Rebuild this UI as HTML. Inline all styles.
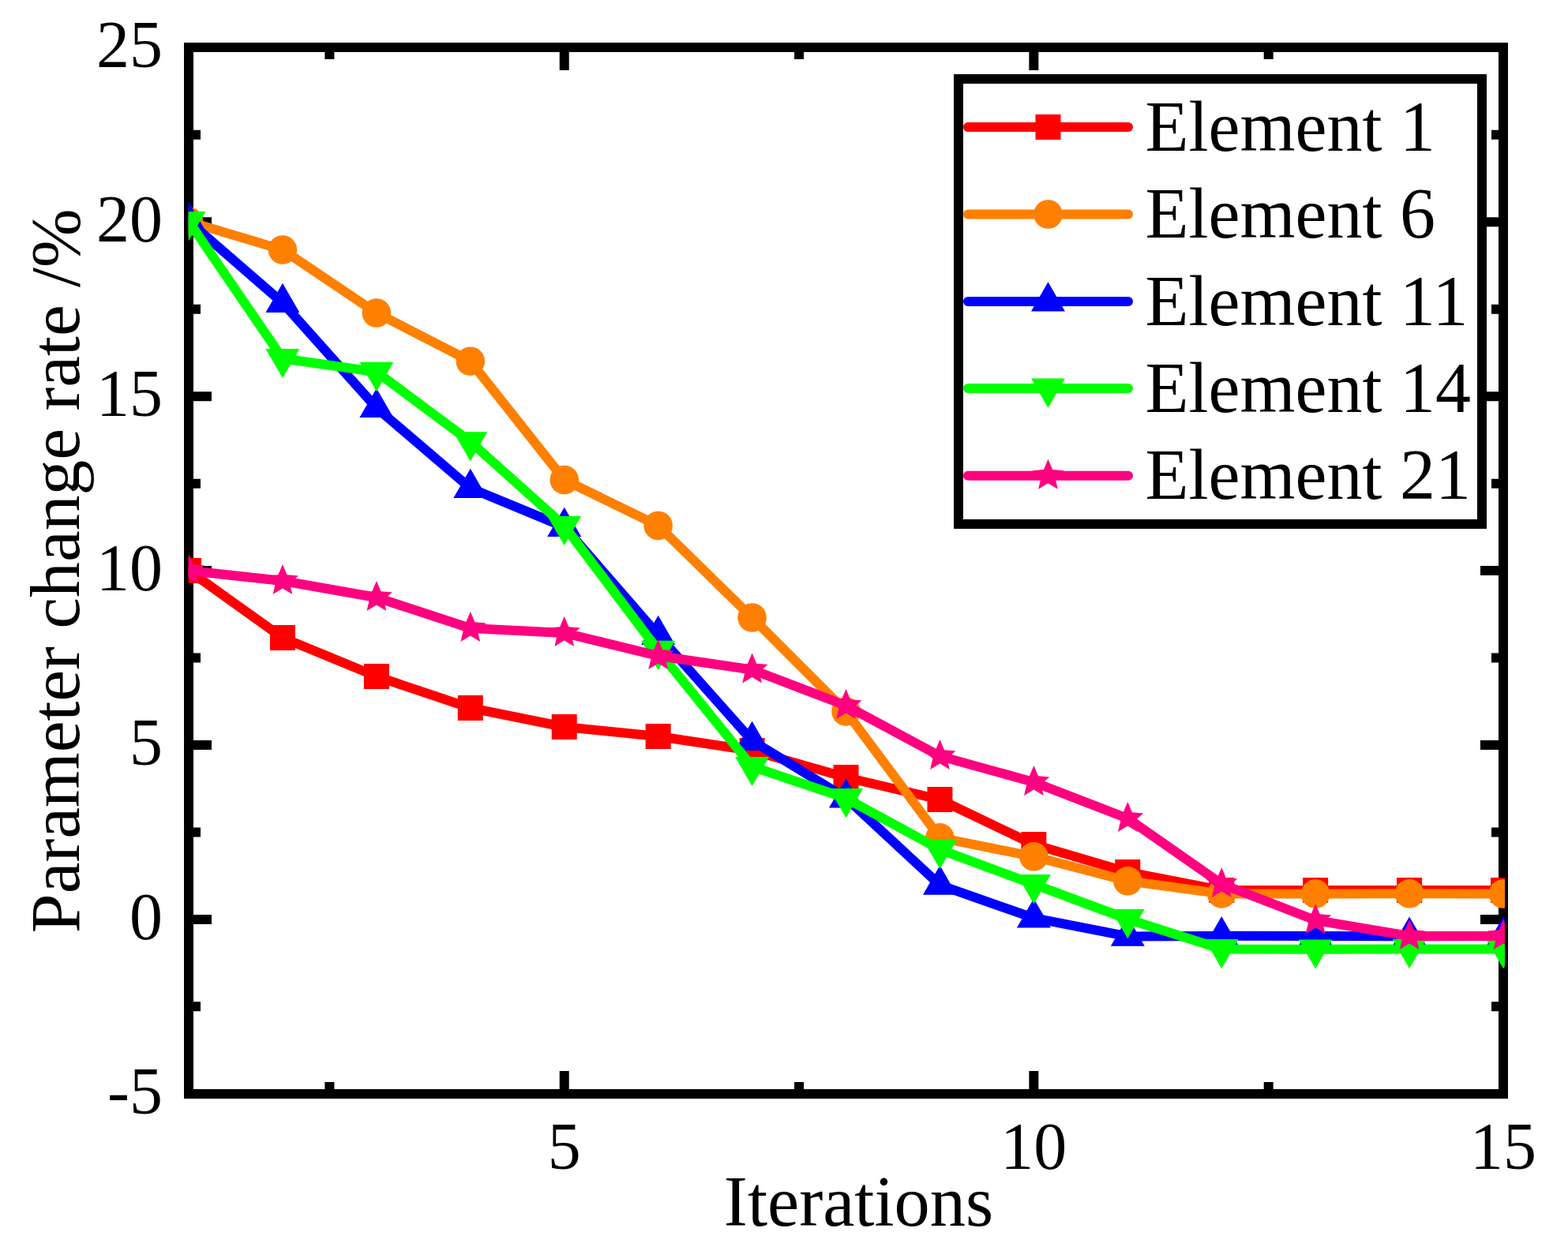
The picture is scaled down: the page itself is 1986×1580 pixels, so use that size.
<!DOCTYPE html>
<html><head><meta charset="utf-8"><title>Parameter change rate</title>
<style>html,body{margin:0;padding:0;background:#fff;}svg{display:block;}</style>
</head><body>
<svg width="1986" height="1580" viewBox="0 0 1986 1580">
<rect width="1986" height="1580" fill="#fff"/>
<rect x="239" y="60" width="1665" height="1326" fill="none" stroke="#000" stroke-width="12"/>
<path d="M417.39,1380v-9M417.39,66v9M714.72,1380v-23M714.72,66v23M1012.05,1380v-9M1012.05,66v9M1309.37,1380v-23M1309.37,66v23M1606.7,1380v-9M1606.7,66v9M245,1275.35h9M1898,1275.35h-9M245,1164.9h23M1898,1164.9h-23M245,1054.45h9M1898,1054.45h-9M245,944h23M1898,944h-23M245,833.55h9M1898,833.55h-9M245,723.1h23M1898,723.1h-23M245,612.65h9M1898,612.65h-9M245,502.2h23M1898,502.2h-23M245,391.75h9M1898,391.75h-9M245,281.3h23M1898,281.3h-23M245,170.85h9M1898,170.85h-9" stroke="#000" stroke-width="12" fill="none"/>
<defs><clipPath id="cp"><rect x="238.7" y="0" width="1667.3" height="1580"/></clipPath></defs>
<g clip-path="url(#cp)">
<polyline points="239,723 357.93,808 476.86,857 595.79,897 714.72,921 833.65,933 952.58,951 1071.51,985 1190.44,1013 1309.37,1070 1428.3,1105 1547.23,1128 1666.16,1128 1785.09,1128 1904.02,1128" fill="none" stroke="#ff0000" stroke-width="12" stroke-linejoin="round" stroke-linecap="round"/><rect x="223" y="707" width="32" height="32" fill="#ff0000"/><rect x="341.93" y="792" width="32" height="32" fill="#ff0000"/><rect x="460.86" y="841" width="32" height="32" fill="#ff0000"/><rect x="579.79" y="881" width="32" height="32" fill="#ff0000"/><rect x="698.72" y="905" width="32" height="32" fill="#ff0000"/><rect x="817.65" y="917" width="32" height="32" fill="#ff0000"/><rect x="936.58" y="935" width="32" height="32" fill="#ff0000"/><rect x="1055.51" y="969" width="32" height="32" fill="#ff0000"/><rect x="1174.44" y="997" width="32" height="32" fill="#ff0000"/><rect x="1293.37" y="1054" width="32" height="32" fill="#ff0000"/><rect x="1412.3" y="1089" width="32" height="32" fill="#ff0000"/><rect x="1531.23" y="1112" width="32" height="32" fill="#ff0000"/><rect x="1650.16" y="1112" width="32" height="32" fill="#ff0000"/><rect x="1769.09" y="1112" width="32" height="32" fill="#ff0000"/><rect x="1888.02" y="1112" width="32" height="32" fill="#ff0000"/>
<polyline points="239,280.7 357.93,316.5 476.86,396.5 595.79,457.7 714.72,608 833.65,666 952.58,782.5 1071.51,901.5 1190.44,1061.4 1309.37,1085.3 1428.3,1116.3 1547.23,1132.4 1666.16,1132.5 1785.09,1132.3 1904.02,1132.5" fill="none" stroke="#ff8000" stroke-width="12" stroke-linejoin="round" stroke-linecap="round"/><circle cx="239" cy="280.7" r="18.3" fill="#ff8000"/><circle cx="357.93" cy="316.5" r="18.3" fill="#ff8000"/><circle cx="476.86" cy="396.5" r="18.3" fill="#ff8000"/><circle cx="595.79" cy="457.7" r="18.3" fill="#ff8000"/><circle cx="714.72" cy="608" r="18.3" fill="#ff8000"/><circle cx="833.65" cy="666" r="18.3" fill="#ff8000"/><circle cx="952.58" cy="782.5" r="18.3" fill="#ff8000"/><circle cx="1071.51" cy="901.5" r="18.3" fill="#ff8000"/><circle cx="1190.44" cy="1061.4" r="18.3" fill="#ff8000"/><circle cx="1309.37" cy="1085.3" r="18.3" fill="#ff8000"/><circle cx="1428.3" cy="1116.3" r="18.3" fill="#ff8000"/><circle cx="1547.23" cy="1132.4" r="18.3" fill="#ff8000"/><circle cx="1666.16" cy="1132.5" r="18.3" fill="#ff8000"/><circle cx="1785.09" cy="1132.3" r="18.3" fill="#ff8000"/><circle cx="1904.02" cy="1132.5" r="18.3" fill="#ff8000"/>
<polyline points="239,280.4 357.93,383.6 476.86,516.7 595.79,618.5 714.72,667.6 833.65,804.6 952.58,938.5 1071.51,1011 1190.44,1121.4 1309.37,1163.2 1428.3,1186.4 1547.23,1185.8 1666.16,1186 1785.09,1186.2 1904.02,1186" fill="none" stroke="#0000ff" stroke-width="12" stroke-linejoin="round" stroke-linecap="round"/><polygon points="239,255.6 260.48,292.8 217.52,292.8" fill="#0000ff"/><polygon points="357.93,358.8 379.41,396 336.45,396" fill="#0000ff"/><polygon points="476.86,491.9 498.34,529.1 455.38,529.1" fill="#0000ff"/><polygon points="595.79,593.7 617.27,630.9 574.31,630.9" fill="#0000ff"/><polygon points="714.72,642.8 736.2,680 693.24,680" fill="#0000ff"/><polygon points="833.65,779.8 855.13,817 812.17,817" fill="#0000ff"/><polygon points="952.58,913.7 974.06,950.9 931.1,950.9" fill="#0000ff"/><polygon points="1071.51,986.2 1092.99,1023.4 1050.03,1023.4" fill="#0000ff"/><polygon points="1190.44,1096.6 1211.92,1133.8 1168.96,1133.8" fill="#0000ff"/><polygon points="1309.37,1138.4 1330.85,1175.6 1287.89,1175.6" fill="#0000ff"/><polygon points="1428.3,1161.6 1449.78,1198.8 1406.82,1198.8" fill="#0000ff"/><polygon points="1547.23,1161 1568.71,1198.2 1525.75,1198.2" fill="#0000ff"/><polygon points="1666.16,1161.2 1687.64,1198.4 1644.68,1198.4" fill="#0000ff"/><polygon points="1785.09,1161.4 1806.57,1198.6 1763.61,1198.6" fill="#0000ff"/><polygon points="1904.02,1161.2 1925.5,1198.4 1882.54,1198.4" fill="#0000ff"/>
<polyline points="239,280.4 357.93,454.3 476.86,471.2 595.79,559.6 714.72,666.3 833.65,824.2 952.58,971.3 1071.51,1011.4 1190.44,1076.3 1309.37,1120.4 1428.3,1164.5 1547.23,1202.5 1666.16,1202.8 1785.09,1202.4 1904.02,1202.5" fill="none" stroke="#00ff00" stroke-width="12" stroke-linejoin="round" stroke-linecap="round"/><polygon points="239,305.2 260.48,268 217.52,268" fill="#00ff00"/><polygon points="357.93,479.1 379.41,441.9 336.45,441.9" fill="#00ff00"/><polygon points="476.86,496 498.34,458.8 455.38,458.8" fill="#00ff00"/><polygon points="595.79,584.4 617.27,547.2 574.31,547.2" fill="#00ff00"/><polygon points="714.72,691.1 736.2,653.9 693.24,653.9" fill="#00ff00"/><polygon points="833.65,849 855.13,811.8 812.17,811.8" fill="#00ff00"/><polygon points="952.58,996.1 974.06,958.9 931.1,958.9" fill="#00ff00"/><polygon points="1071.51,1036.2 1092.99,999 1050.03,999" fill="#00ff00"/><polygon points="1190.44,1101.1 1211.92,1063.9 1168.96,1063.9" fill="#00ff00"/><polygon points="1309.37,1145.2 1330.85,1108 1287.89,1108" fill="#00ff00"/><polygon points="1428.3,1189.3 1449.78,1152.1 1406.82,1152.1" fill="#00ff00"/><polygon points="1547.23,1227.3 1568.71,1190.1 1525.75,1190.1" fill="#00ff00"/><polygon points="1666.16,1227.6 1687.64,1190.4 1644.68,1190.4" fill="#00ff00"/><polygon points="1785.09,1227.2 1806.57,1190 1763.61,1190" fill="#00ff00"/><polygon points="1904.02,1227.3 1925.5,1190.1 1882.54,1190.1" fill="#00ff00"/>
<polyline points="239,723 357.93,736 476.86,757 595.79,796 714.72,802 833.65,831 952.58,848.5 1071.51,894 1190.44,958 1309.37,991 1428.3,1037 1547.23,1120 1666.16,1166 1785.09,1186 1904.02,1186" fill="none" stroke="#ff0080" stroke-width="12" stroke-linejoin="round" stroke-linecap="round"/><polygon points="239,702 244.58,715.31 258.97,716.51 248.04,725.94 251.34,739.99 239,732.5 226.66,739.99 229.96,725.94 219.03,716.51 233.42,715.31" fill="#ff0080"/><polygon points="357.93,715 363.51,728.31 377.9,729.51 366.97,738.94 370.27,752.99 357.93,745.5 345.59,752.99 348.89,738.94 337.96,729.51 352.35,728.31" fill="#ff0080"/><polygon points="476.86,736 482.44,749.31 496.83,750.51 485.9,759.94 489.2,773.99 476.86,766.5 464.52,773.99 467.82,759.94 456.89,750.51 471.28,749.31" fill="#ff0080"/><polygon points="595.79,775 601.37,788.31 615.76,789.51 604.83,798.94 608.13,812.99 595.79,805.5 583.45,812.99 586.75,798.94 575.82,789.51 590.21,788.31" fill="#ff0080"/><polygon points="714.72,781 720.3,794.31 734.69,795.51 723.76,804.94 727.06,818.99 714.72,811.5 702.38,818.99 705.68,804.94 694.75,795.51 709.14,794.31" fill="#ff0080"/><polygon points="833.65,810 839.23,823.31 853.62,824.51 842.69,833.94 845.99,847.99 833.65,840.5 821.31,847.99 824.61,833.94 813.68,824.51 828.07,823.31" fill="#ff0080"/><polygon points="952.58,827.5 958.16,840.81 972.55,842.01 961.62,851.44 964.92,865.49 952.58,858 940.24,865.49 943.54,851.44 932.61,842.01 947,840.81" fill="#ff0080"/><polygon points="1071.51,873 1077.09,886.31 1091.48,887.51 1080.55,896.94 1083.85,910.99 1071.51,903.5 1059.17,910.99 1062.47,896.94 1051.54,887.51 1065.93,886.31" fill="#ff0080"/><polygon points="1190.44,937 1196.02,950.31 1210.41,951.51 1199.48,960.94 1202.78,974.99 1190.44,967.5 1178.1,974.99 1181.4,960.94 1170.47,951.51 1184.86,950.31" fill="#ff0080"/><polygon points="1309.37,970 1314.95,983.31 1329.34,984.51 1318.41,993.94 1321.71,1007.99 1309.37,1000.5 1297.03,1007.99 1300.33,993.94 1289.4,984.51 1303.79,983.31" fill="#ff0080"/><polygon points="1428.3,1016 1433.88,1029.31 1448.27,1030.51 1437.34,1039.94 1440.64,1053.99 1428.3,1046.5 1415.96,1053.99 1419.26,1039.94 1408.33,1030.51 1422.72,1029.31" fill="#ff0080"/><polygon points="1547.23,1099 1552.81,1112.31 1567.2,1113.51 1556.27,1122.94 1559.57,1136.99 1547.23,1129.5 1534.89,1136.99 1538.19,1122.94 1527.26,1113.51 1541.65,1112.31" fill="#ff0080"/><polygon points="1666.16,1145 1671.74,1158.31 1686.13,1159.51 1675.2,1168.94 1678.5,1182.99 1666.16,1175.5 1653.82,1182.99 1657.12,1168.94 1646.19,1159.51 1660.58,1158.31" fill="#ff0080"/><polygon points="1785.09,1165 1790.67,1178.31 1805.06,1179.51 1794.13,1188.94 1797.43,1202.99 1785.09,1195.5 1772.75,1202.99 1776.05,1188.94 1765.12,1179.51 1779.51,1178.31" fill="#ff0080"/><polygon points="1904.02,1165 1909.6,1178.31 1923.99,1179.51 1913.06,1188.94 1916.36,1202.99 1904.02,1195.5 1891.68,1202.99 1894.98,1188.94 1884.05,1179.51 1898.44,1178.31" fill="#ff0080"/>
</g>
<text x="714.72" y="1481" font-family="Liberation Serif, Times New Roman, serif" font-size="84" text-anchor="middle">5</text>
<text x="1309.37" y="1481" font-family="Liberation Serif, Times New Roman, serif" font-size="84" text-anchor="middle">10</text>
<text x="1904.02" y="1481" font-family="Liberation Serif, Times New Roman, serif" font-size="84" text-anchor="middle">15</text>
<text x="206" y="1410.8" font-family="Liberation Serif, Times New Roman, serif" font-size="84" text-anchor="end">-5</text>
<text x="206" y="1189.9" font-family="Liberation Serif, Times New Roman, serif" font-size="84" text-anchor="end">0</text>
<text x="206" y="969" font-family="Liberation Serif, Times New Roman, serif" font-size="84" text-anchor="end">5</text>
<text x="206" y="748.1" font-family="Liberation Serif, Times New Roman, serif" font-size="84" text-anchor="end">10</text>
<text x="206" y="527.2" font-family="Liberation Serif, Times New Roman, serif" font-size="84" text-anchor="end">15</text>
<text x="206" y="306.3" font-family="Liberation Serif, Times New Roman, serif" font-size="84" text-anchor="end">20</text>
<text x="206" y="85.4" font-family="Liberation Serif, Times New Roman, serif" font-size="84" text-anchor="end">25</text>
<text x="916.8" y="1552.7" font-family="Liberation Serif, Times New Roman, serif" font-size="90.4">Iterations</text>
<text transform="translate(99.9,1182.2) rotate(-90)" font-family="Liberation Serif, Times New Roman, serif" font-size="89.6">Parameter change rate /%</text>
<rect x="1214" y="100" width="663" height="564" fill="#fff" stroke="#000" stroke-width="12"/>
<line x1="1226" y1="161" x2="1429" y2="161" stroke="#ff0000" stroke-width="12" stroke-linecap="round"/>
<rect x="1311.5" y="145" width="32" height="32" fill="#ff0000"/>
<text x="1450.5" y="190.6" font-family="Liberation Serif, Times New Roman, serif" font-size="90">Element 1</text>
<line x1="1226" y1="271.5" x2="1429" y2="271.5" stroke="#ff8000" stroke-width="12" stroke-linecap="round"/>
<circle cx="1327.5" cy="271.5" r="18.3" fill="#ff8000"/>
<text x="1450.5" y="301.1" font-family="Liberation Serif, Times New Roman, serif" font-size="90">Element 6</text>
<line x1="1226" y1="382" x2="1429" y2="382" stroke="#0000ff" stroke-width="12" stroke-linecap="round"/>
<polygon points="1327.5,357.2 1348.98,394.4 1306.02,394.4" fill="#0000ff"/>
<text x="1450.5" y="411.6" font-family="Liberation Serif, Times New Roman, serif" font-size="90">Element 11</text>
<line x1="1226" y1="492" x2="1429" y2="492" stroke="#00ff00" stroke-width="12" stroke-linecap="round"/>
<polygon points="1327.5,516.8 1348.98,479.6 1306.02,479.6" fill="#00ff00"/>
<text x="1450.5" y="521.6" font-family="Liberation Serif, Times New Roman, serif" font-size="90">Element 14</text>
<line x1="1226" y1="602.8" x2="1429" y2="602.8" stroke="#ff0080" stroke-width="12" stroke-linecap="round"/>
<polygon points="1327.5,581.8 1333.08,595.11 1347.47,596.31 1336.54,605.74 1339.84,619.79 1327.5,612.3 1315.16,619.79 1318.46,605.74 1307.53,596.31 1321.92,595.11" fill="#ff0080"/>
<text x="1450.5" y="632.4" font-family="Liberation Serif, Times New Roman, serif" font-size="90">Element 21</text>
</svg>
</body></html>
